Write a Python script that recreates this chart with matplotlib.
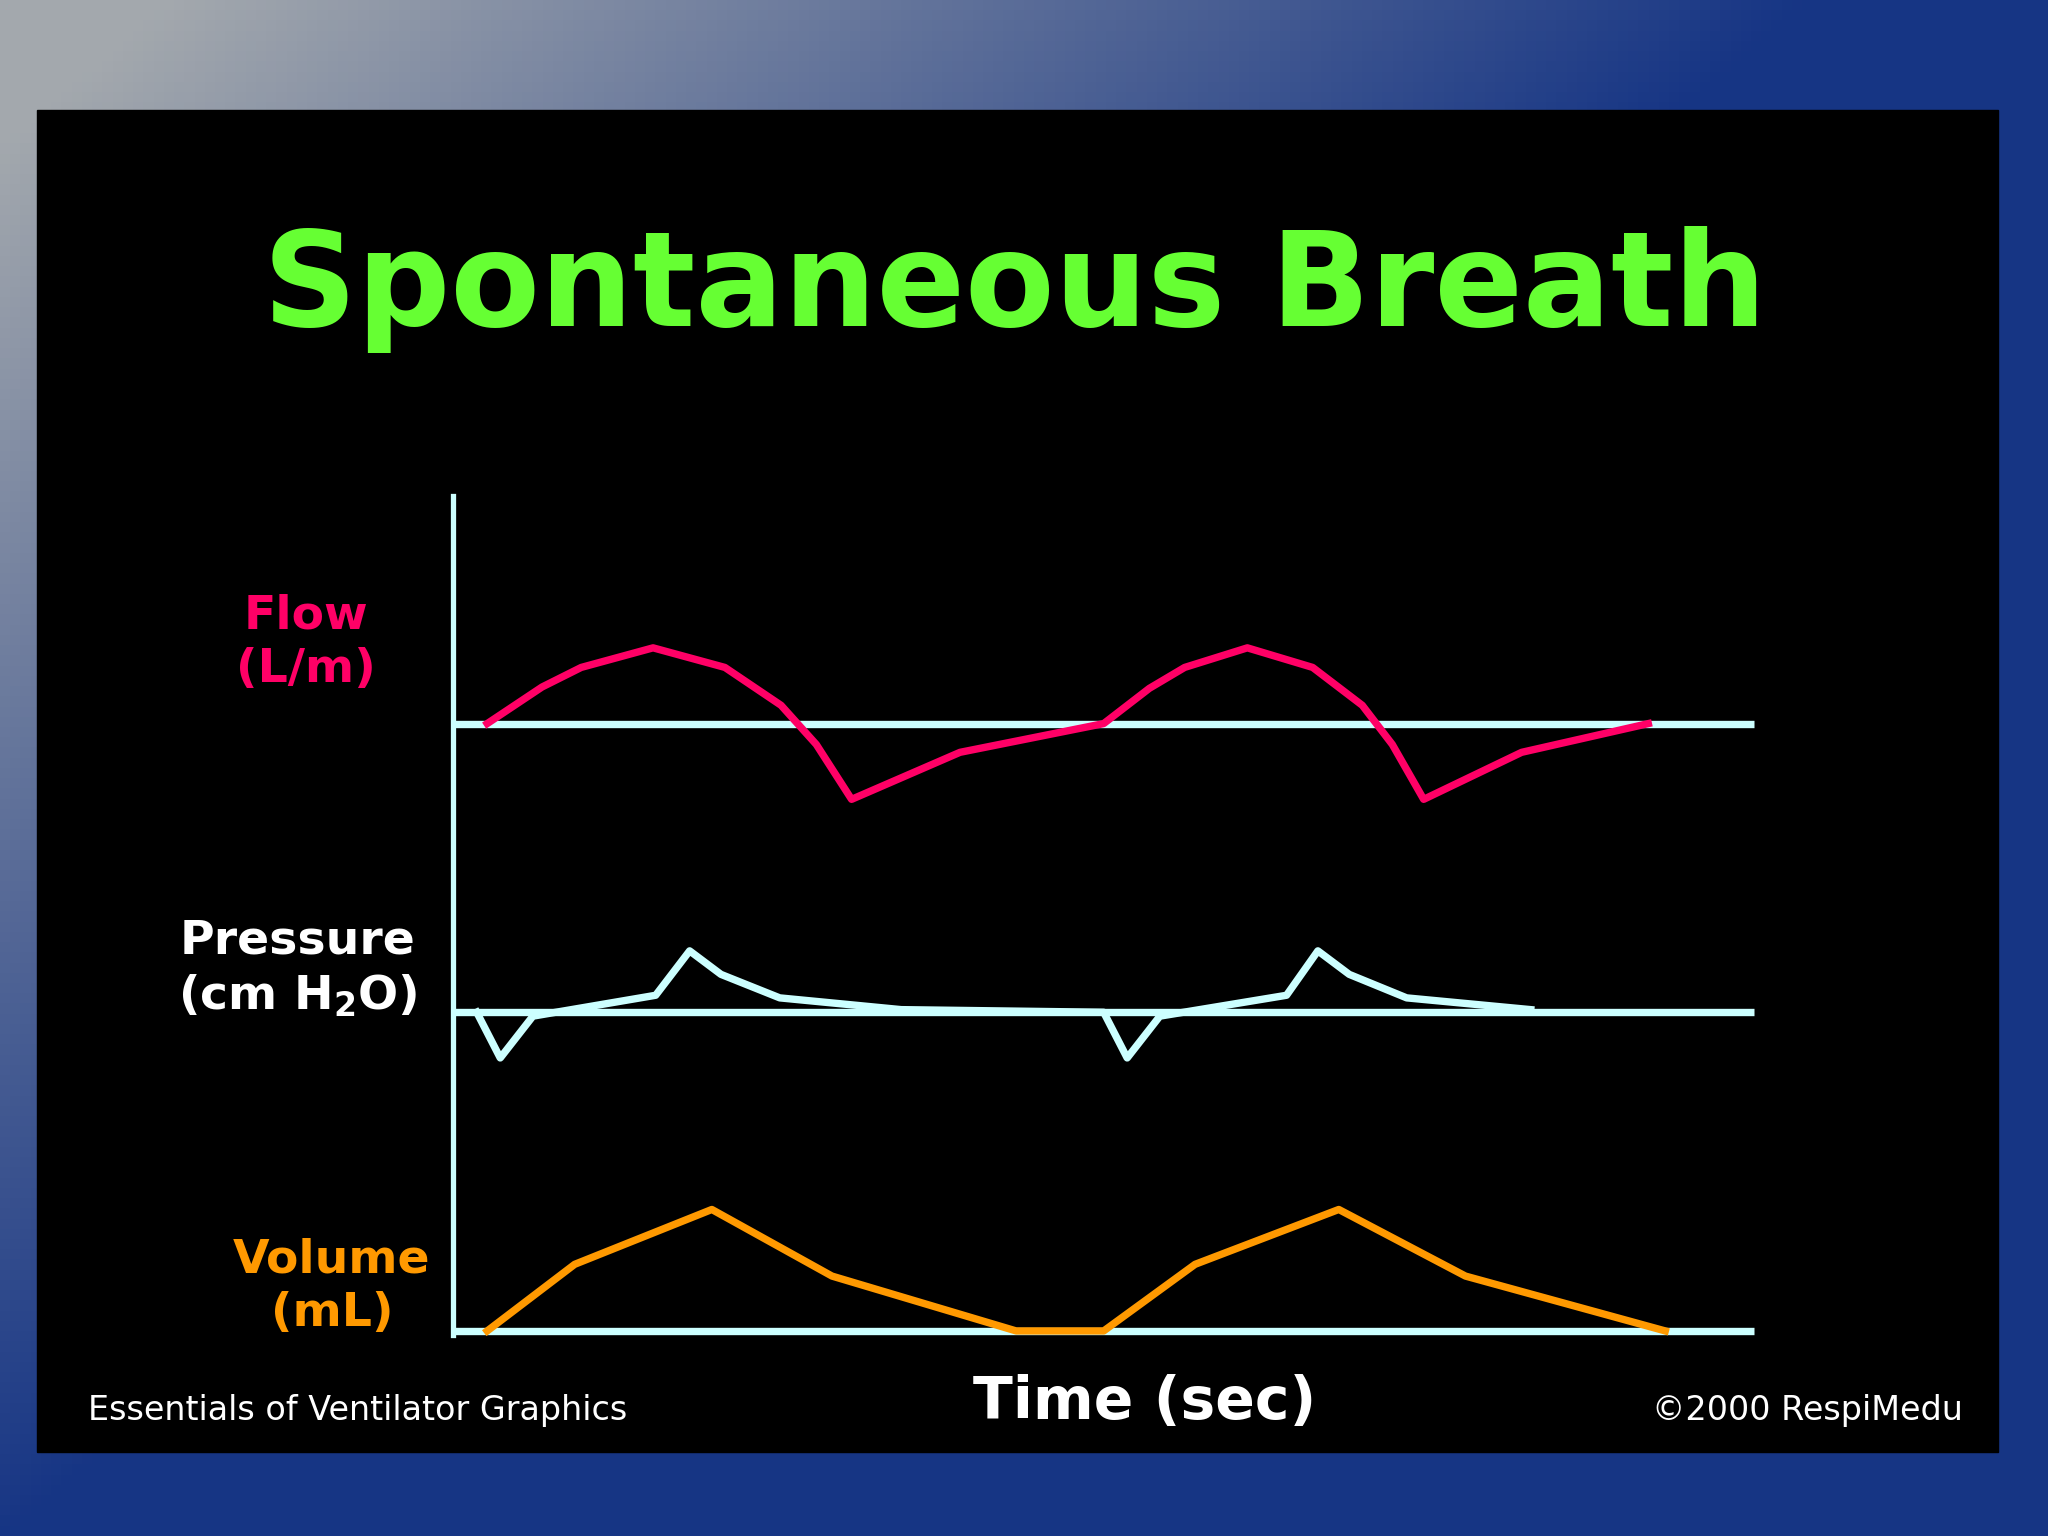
import numpy as np
import matplotlib
matplotlib.use("Agg")
import matplotlib.pyplot as plt
from matplotlib.patches import Rectangle

# Time (s) and signal values (arbitrary units)
flow_t = [0.26, 0.68, 0.98, 1.53, 2.08, 2.51, 2.78, 3.05, 3.88, 4.98, 5.33, 5.60, 6.08, 6.58, 6.96, 7.19, 7.43, 8.18, 9.15]
flow_v = [0, 28, 43, 58, 43, 14, -16, -58, -22, 0, 27, 43, 58, 43, 14, -16, -58, -22, 0]
pres_t = [0.18, 0.36, 0.61, 1.55, 1.81, 2.05, 2.50, 3.43, 4.98, 5.16, 5.41, 6.38, 6.62, 6.86, 7.30, 8.25]
pres_v = [0, -35, -3, 13, 47, 29, 11, 2, 0, -35, -3, 13, 47, 29, 11, 2]
vol_t = [0.26, 0.93, 1.98, 2.90, 4.31, 4.98, 5.68, 6.78, 7.75, 9.28]
vol_v = [0, 51, 93, 42, 0, 0, 51, 93, 42, 0]

W, H = 1568, 1176
fig = plt.figure(figsize=(20.48, 15.36), dpi=100)
ax = fig.add_axes([0, 0, 1, 1])
ax.set_xlim(0, W); ax.set_ylim(H, 0); ax.axis('off')

# background gradient
gx = np.linspace(0, 1, 200)[None, :]
gy = np.linspace(0, 1, 150)[:, None]
g = np.clip(gx * 1.25 + gy * 1.1 - 0.1, 0, 1)
c0 = np.array([0.64, 0.66, 0.68]); c1 = np.array([0.09, 0.21, 0.52])
img = c0[None, None, :] * (1 - g[..., None]) + c1[None, None, :] * g[..., None]
ax.imshow(img, extent=[0, W, H, 0], aspect='auto', zorder=0)
ax.add_patch(Rectangle((28, 84), 1502, 1028, color='black', zorder=1))

X0, SC = 347, 100
def px(t): return [X0 + SC * v for v in t]
axis_c = '#ccffff'
lw = 5.3
ax.plot([347, 347], [380, 1022], color=axis_c, lw=3.8, zorder=2)
for yb in (554, 775, 1019):
    ax.plot([347, 1343], [yb, yb], color=axis_c, lw=lw, zorder=2, solid_capstyle='butt')

ax.plot(px(flow_t), [554 - v for v in flow_v], color='#ff0066', lw=lw, zorder=3)
ax.plot(px(pres_t), [775 - v for v in pres_v], color=axis_c, lw=lw, zorder=3)
ax.plot(px(vol_t), [1019 - v for v in vol_v], color='#ff9900', lw=lw, zorder=4)

ax.text(777, 222, 'Spontaneous Breath', color='#66ff33', fontsize=94, fontweight='bold',
        ha='center', va='center', zorder=5)
ax.text(234, 492, 'Flow\n(L/m)', color='#ff0066', fontsize=34, fontweight='bold',
        ha='center', va='center', linespacing=1.25, zorder=5)
ax.text(228, 742, 'Pressure\n(cm H$_\\mathbf{2}$O)', color='white', fontsize=34, fontweight='bold',
        ha='center', va='center', linespacing=1.25, zorder=5)
ax.text(254, 985, 'Volume\n(mL)', color='#ff9900', fontsize=34, fontweight='bold',
        ha='center', va='center', linespacing=1.25, zorder=5)
ax.text(876, 1074, 'Time (sec)', color='white', fontsize=42, fontweight='bold',
        ha='center', va='center', zorder=5)
ax.text(67, 1080, 'Essentials of Ventilator Graphics', color='white', fontsize=24,
        ha='left', va='center', zorder=5)
ax.text(1503, 1080, '©2000 RespiMedu', color='white', fontsize=24,
        ha='right', va='center', zorder=5)

fig.savefig('out.png', dpi=100)
